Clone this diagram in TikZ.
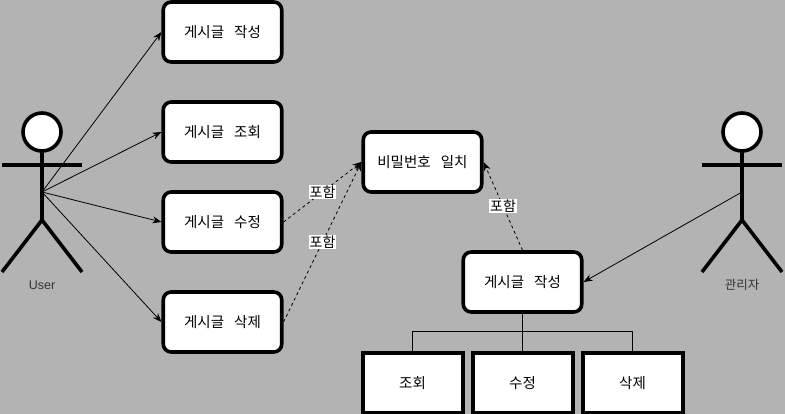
\documentclass[tikz,border=0pt]{standalone}
\usepackage{fontspec}
\setmainfont{Noto Sans CJK KR}
\newfontfamily\latinfont{Liberation Sans}
\usetikzlibrary{arrows.meta}
\definecolor{backgray}{HTML}{B3B3B3}
\definecolor{labelgray}{HTML}{333333}
\def\backdrop{(0,0) rectangle (785,414)}
\def\stickman#1{
    \draw[stick,fill=white] (#1,132) circle (19);
    \draw[stick] (#1,151) -- (#1,220);
    \draw[stick] (#1-40,165) -- (#1+40,165);
    \draw[stick] (#1-40,272) -- (#1,220) -- (#1+40,272);
}
\tikzset{
    usecase/.style={draw,fill=white,line width=3.6pt,rounded corners=8pt,minimum width=118.5pt,minimum height=60pt,inner sep=0pt,font=\fontsize{14.5}{16}\selectfont},
    subcase/.style={draw,fill=white,line width=4pt,minimum width=100pt,minimum height=60pt,inner sep=0pt,font=\fontsize{14.5}{16}\selectfont},
    stick/.style={line width=3.6pt},
    actorlabel/.style={text=labelgray,inner sep=0pt,font=\fontsize{12.5}{14}\selectfont},
    assoc/.style={line width=.8pt,-{Stealth[length=9pt,width=7pt]}},
    incl/.style={assoc,dash pattern=on 3pt off 3pt},
    inclabel/.style={fill=white,inner sep=1pt,font=\fontsize{14}{16}\selectfont},
    treeline/.style={line width=.8pt},
}
\begin{document}
\begin{tikzpicture}[x=1pt,y=-1pt]
\fill[backgray] \backdrop;
\useasboundingbox \backdrop;
\stickman{42}
\stickman{742}
\coordinate (user) at (42,192);
\coordinate (admin) at (742,192);
\node[actorlabel] (userlabel) at (42,285) {\latinfont User};
\node[actorlabel] (adminlabel) at (742,285) {관리자};
\node[usecase] (write) at (222.5,32) {게시글\hspace{.7em}작성};
\node[usecase] (read) at (222.5,132) {게시글\hspace{.7em}조회};
\node[usecase] (edit) at (222.5,222) {게시글\hspace{.7em}수정};
\node[usecase] (del) at (222.5,322) {게시글\hspace{.7em}삭제};
\node[usecase] (pass) at (422.5,162) {비밀번호\hspace{.7em}일치};
\node[usecase] (adminwrite) at (522.5,282) {게시글\hspace{.7em}작성};
\node[subcase] (subread) at (412.5,383) {조회};
\node[subcase] (subedit) at (522.5,383) {수정};
\node[subcase] (subdel) at (632.5,383) {삭제};
\foreach \target in {write,read,edit,del}
    \draw[assoc] (user) -- (\target.west);
\draw[assoc] (admin) -- (adminwrite.east);
\draw[incl] (edit.east) -- (pass.west) node[midway,inclabel,solid] (editinc) {포함};
\draw[incl] (del.east) -- (pass.west) node[midway,inclabel,solid] (delinc) {포함};
\draw[incl] (adminwrite.north) -- (pass.east) node[midway,inclabel,solid] (adminc) {포함};
\draw[treeline] (adminwrite.south) -- (subedit.north);
\draw[treeline] (subread.north) -- ++(0,-20) -| (subdel.north);
\end{tikzpicture}
\end{document}
